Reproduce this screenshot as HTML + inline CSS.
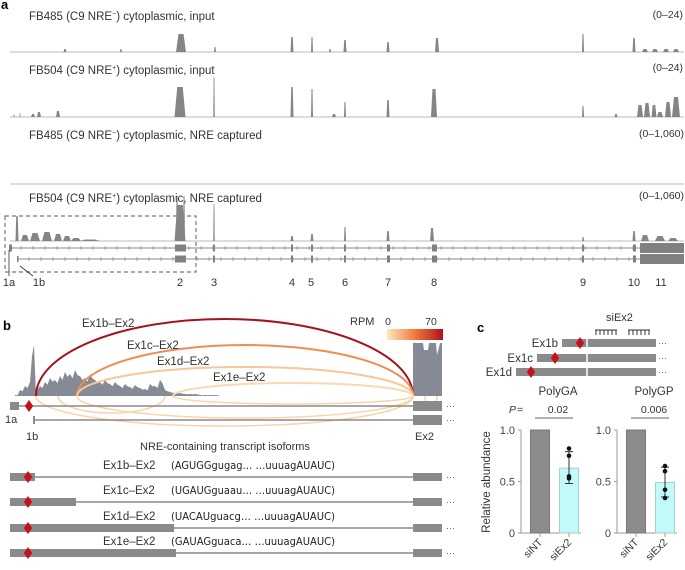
<!DOCTYPE html>
<html><head><meta charset="utf-8"><style>
body{margin:0;background:#fff;}
svg{display:block;font-family:"Liberation Sans",sans-serif;}
</style></head><body>
<svg id="fig" width="685" height="570" viewBox="0 0 685 570">
<g id="pa">
<text x="1" y="9" font-size="13" font-weight="bold">a</text>
<text x="29" y="20" font-size="11.5" fill="#333">FB485 (C9 NRE<tspan font-size="7" dy="-4">−</tspan><tspan dy="4">) cytoplasmic, input</tspan></text>
<text x="683" y="18" font-size="10.5" fill="#333" text-anchor="end">(0–24)</text>
<text x="29" y="74" font-size="11.5" fill="#333">FB504 (C9 NRE<tspan font-size="7" dy="-4">+</tspan><tspan dy="4">) cytoplasmic, input</tspan></text>
<text x="683" y="71" font-size="10.5" fill="#333" text-anchor="end">(0–24)</text>
<text x="29" y="139" font-size="11.5" fill="#333">FB485 (C9 NRE<tspan font-size="7" dy="-4">−</tspan><tspan dy="4">) cytoplasmic, NRE captured</tspan></text>
<text x="684" y="137" font-size="10.5" fill="#333" text-anchor="end">(0–1,060)</text>
<text x="29" y="202" font-size="11.5" fill="#333">FB504 (C9 NRE<tspan font-size="7" dy="-4">+</tspan><tspan dy="4">) cytoplasmic, NRE captured</tspan></text>
<text x="684" y="199" font-size="10.5" fill="#333" text-anchor="end">(0–1,060)</text>
<rect x="5" y="216" width="191" height="56" fill="none" stroke="#777" stroke-width="1.2" stroke-dasharray="4,3"/>
</g>
<g id="pb">
<text x="3" y="330" font-size="13" font-weight="bold">b</text>
<defs><linearGradient id="rpm" x1="0" x2="1"><stop offset="0" stop-color="#fde9c2"/><stop offset="0.5" stop-color="#f07a3c"/><stop offset="1" stop-color="#b0101a"/></linearGradient></defs>
<text x="350" y="325" font-size="11" fill="#333">RPM</text>
<text x="388" y="325" font-size="10.5" fill="#333" text-anchor="middle">0</text>
<text x="431" y="325" font-size="10.5" fill="#333" text-anchor="middle">70</text>
<rect x="387" y="329" width="56" height="11" fill="url(#rpm)"/>
<text x="225" y="450" font-size="11" fill="#333" text-anchor="middle">NRE-containing transcript isoforms</text>
<text x="5" y="423" font-size="11" fill="#333">1a</text>
<text x="26" y="440" font-size="11" fill="#333">1b</text>
<text x="415" y="440" font-size="11" fill="#333">Ex2</text>
</g>
<g id="pc">
<text x="477" y="332" font-size="13" font-weight="bold">c</text>
<text x="606" y="321" font-size="11" fill="#333">siEx2</text>
</g>
</svg>
<script>
const NS="http://www.w3.org/2000/svg";
const svg=document.getElementById('fig');
function mk(tag,attrs,parent){const e=document.createElementNS(NS,tag);for(const k in attrs)e.setAttribute(k,attrs[k]);(parent||svg).appendChild(e);return e;}
const pa=document.getElementById('pa'),pb=document.getElementById('pb'),pc=document.getElementById('pc');

// ---- panel a coverage data: [x, width, height]
const track1Peaks=[[65,3,3],[121,2,3],[181,10,18],[215,2,5],[292,3,15],[312,2,15],[330,2,3],[345,3,12],[388,3,10],[437,4,14],[583,2,18],[634,3,14],[645,6,3],[655,6,3],[666,6,3],[676,6,3]];
const track2Peaks=[[14,1,3],[20,1,4],[33,4,3],[39,4,5],[58,4,6],[180,11,30],[214,1.5,40],[292,3,30],[312,2,28],[334,4,3],[345,2,15],[388,3,17],[434,6,28],[583,2,11],[616,3,3],[640,6,12],[647,6,14],[654,5,12],[660,6,5],[668,6,15],[676,8,20]];
const track4Peaks=[[17,3,25],[25,8,6],[35,10,8],[47,10,9],[58,8,7],[67,8,5],[76,10,3],[90,20,1.5],[180,11,36],[177,2,45],[184,2,45],[214,1.5,37],[292,3,5],[312,3,7],[345,2,14],[388,3,10],[432,4,13],[583,2,4],[634,3,10],[645,8,6],[660,10,5],[673,10,3]];
function track(peaks,base,name){
  const l=mk('line',{x1:10,x2:684,y1:base,y2:base,stroke:'#bbb','stroke-width':1},pa);
  
  
  peaks.forEach(p=>{const [x,w,h]=p;
    const e=mk('polygon',{points:`${x-w/2},${base} ${x-w/4},${base-h} ${x+w/4},${base-h} ${x+w/2},${base}`,fill:'#858585'},pa);
    
    });
}
track(track1Peaks,52,'track1');
track(track2Peaks,117,'track2');
track([],184,'track3');
track(track4Peaks,241,'track4');

// gene models
const exonsA=[[175,11,7],[213,2,7],[291,2,7],[311,2,7],[344,2,7],[387,3,7],[432,5,7],[582,2,7],[633,3,7],[640,44,10]];
[[248,9],[259,17]].forEach((r,i)=>{const [y,x0]=r;
  const l=mk('line',{x1:x0,x2:684,y1:y,y2:y,stroke:'#888','stroke-width':1},pa);
  
  
  for(let t=x0+12;t<640;t+=12){const tk=mk('line',{x1:t,x2:t,y1:y-2,y2:y+2,stroke:'#888','stroke-width':0.7},pa);
    
    }
  if(i===0){const e=mk('rect',{x:9,y:y-3.5,width:3,height:7,fill:'#808080'},pa);
    
    }
  else{const e=mk('rect',{x:17,y:y-3,width:1.5,height:6,fill:'#808080'},pa);
    
    }
  exonsA.forEach(ex=>{const e=mk('rect',{x:ex[0],y:y-ex[2]/2,width:ex[1],height:ex[2],fill:'#808080'},pa);
    
    });
});
const exonLabels=['1a','1b','2','3','4','5','6','7','8','9','10','11'];
const exonLabelX=[9,39,180,214,292,311,345,388,434,583,634,661];
exonLabels.forEach((s,i)=>{const t=mk('text',{x:exonLabelX[i],y:286,'font-size':11,fill:'#333','text-anchor':'middle'},pa);t.textContent=s;
  
  });
let c1=mk('line',{x1:9,x2:9,y1:250,y2:276,stroke:'#333','stroke-width':0.8},pa);


let c2=mk('line',{x1:20,x2:33,y1:266,y2:276,stroke:'#333','stroke-width':0.8},pa);



// ---- panel b coverage (continuous profile, sampled every 5px from x=15)
const bBase=396;
const bCovHeights=[1,6,10,14,8,10,14,18,16,20,24,22,26,20,18,22,16,14,16,12,14,10,12,9,11,8,7,12,10,16,6,4,3,3,2,2,2,1,1,1,1,0];
let pts=`15,${bBase} `;
bCovHeights.forEach((h,i)=>{const x=15+i*5;pts+=`${x},${bBase-h} `;if(i<bCovHeights.length-1)pts+=`${x+2.5},${bBase-h*0.8} `;});
pts+=`${15+(bCovHeights.length-1)*5},${bBase}`;
let covb=mk('polygon',{points:pts,fill:'#858a94'},pb);


let spk=mk('polygon',{points:`29,${bBase} 32,${bBase-40} 34,${bBase-51} 36,${bBase}`,fill:'#858a94'},pb);


let ex2c=mk('polygon',{points:`413,${bBase} 413,343 423,343 424,350 428,350 429,343 436,343 437,355 440,343 442,343 442,${bBase}`,fill:'#858a94'},pb);


// arcs
const arcs=[[36,319,'#a3141c','Ex1b–Ex2',82,327],[77,345,'#f08c52','Ex1c–Ex2',127,349],[77,367,'#f7c69a','Ex1d–Ex2',157,365],[173,383,'#fbd8b0','Ex1e–Ex2',213,381]];
arcs.forEach(a=>{const [x1,top,col,lab,lx,ly]=a;const h=bBase-top;
  const p=mk('path',{d:`M${x1},${bBase} A${(413-x1)/2},${h} 0 0 1 413,${bBase}`,fill:'none',stroke:col,'stroke-width':2},pb);
  
  
  const t=mk('text',{x:lx,y:ly,'font-size':11.5,fill:'#333'},pb);t.textContent=lab;
  
  });
const lowArcs=[[36,413,30],[58,165,17],[77,413,22],[173,413,8],[425,437,12]];
lowArcs.forEach(a=>{const p=mk('path',{d:`M${a[0]},${bBase} A${(a[1]-a[0])/2},${a[2]} 0 0 0 ${a[1]},${bBase}`,fill:'none',stroke:'#fbd3a8','stroke-width':1.5},pb);
  
  });
function diamond(x,y,r,parent){const d=mk('polygon',{points:`${x},${y-r} ${x+r*0.7},${y} ${x},${y+r} ${x-r*0.7},${y}`,fill:'#c8101a'},parent);
  
  }
function grect(x,y,w,h,parent,name){const e=mk('rect',{x:x,y:y,width:w,height:h,fill:'#8a8a8a'},parent);
  
  return e;}
function gline(x1,x2,y,parent,name){const e=mk('line',{x1:x1,x2:x2,y1:y,y2:y,stroke:'#8a8a8a','stroke-width':1.5},parent);
  
  }
function dots(x,y,parent){const t=mk('text',{x:x,y:y+3,'font-size':9,fill:'#555'},parent);t.textContent='···';
  
  }
gline(10,442,406,pb,'row-1a');grect(10,402,9,8,pb,'exon-1a-b');grect(413,401,29,10,pb,'ex2-b');diamond(29,406,6,pb);dots(446,406,pb);
gline(34,442,420,pb,'row-1b');grect(33,416,2,8,pb,'exon-1b-b');grect(413,415,29,10,pb,'ex2-b2');dots(446,420,pb);
const isoLabels=['Ex1b–Ex2','Ex1c–Ex2','Ex1d–Ex2','Ex1e–Ex2'];
const isoSeqs=['(AGUGGgugag… …uuuagAUAUC)','(UGAUGguaau… …uuuagAUAUC)','(UACAUguacg… …uuuagAUAUC)','(GAUAGguaca… …uuuagAUAUC)'];
const isoEnd=[35,76,174,176];
const isoY=[477,502,528,553];
isoY.forEach((y,i)=>{gline(10,442,y,pb,'isoform-line');grect(10,y-4,isoEnd[i]-10,8,pb,'isoform-exon1');grect(413,y-4,29,8,pb,'isoform-ex2');diamond(28,y,6,pb);dots(446,y,pb);
  const t=mk('text',{x:103,y:y-8,'font-size':11.5,fill:'#333'},pb);t.textContent=isoLabels[i];
  
  
  const s=mk('text',{x:171,y:y-8,'font-size':10.5,fill:'#222','font-family':'DejaVu Sans, sans-serif','textLength':164,'lengthAdjust':'spacingAndGlyphs'},pb);s.textContent=isoSeqs[i];
  
  });

// ---- panel c schematic
const cRows=[['Ex1b',562,343,580],['Ex1c',537,358,555],['Ex1d',516,372,531]];
cRows.forEach(r=>{grect(r[1],r[2]-4,656-r[1],8,pc,'transcript-bar');
  const sep=mk('line',{x1:587,x2:587,y1:r[2]-5,y2:r[2]+5,stroke:'#fff','stroke-width':1.5},pc);
  
  
  diamond(r[3],r[2],6,pc);dots(658,r[2],pc);
  const t=mk('text',{x:r[1]-4,y:r[2]+4,'font-size':11.5,fill:'#333','text-anchor':'end'},pc);t.textContent=r[0];
  
  });
[595,628].forEach(x0=>{const p=mk('path',{d:`M${x0},330 h22`+[0,1,2,3,4,5].map(k=>` M${x0+1+k*4},330 v5`).join(''),stroke:'#333','stroke-width':1,fill:'none'},pc);
  
  });

// ---- panel c bar charts
const categories=['siNT','siEx2'];
const polyGAValues=[1.0,0.63];
const polyGAErr=[0.48,0.79];
const polyGAPoints=[0.82,0.75,0.55,0.53];
const polyGPValues=[1.0,0.49];
const polyGPErr=[0.35,0.64];
const polyGPPoints=[0.65,0.60,0.42,0.34];
const yTicks=[0,0.5,1.0];
const yTickLabels=['0','0.5','1.0'];
const pValues=['0.02','0.006'];
const y0=533,y1=430;
function yScale(v){return y0+(y1-y0)*v;}
function chart(ax,title,vals,err,pts,pv){
  const t=mk('text',{x:ax+37,y:395,'font-size':11.5,fill:'#333','text-anchor':'middle'},pc);t.textContent=title;
  
  
  const p=mk('text',{x:ax+37,y:413,'font-size':10.5,fill:'#333','text-anchor':'middle'},pc);p.textContent=pv;
  
  
  const pl=mk('line',{x1:ax+14,x2:ax+52,y1:418,y2:418,stroke:'#333','stroke-width':0.8},pc);
  
  
  const a=mk('line',{x1:ax,x2:ax,y1:y1,y2:y0,stroke:'#999','stroke-width':1},pc);
  
  
  const b=mk('line',{x1:ax,x2:ax+60,y1:y0,y2:y0,stroke:'#999','stroke-width':1},pc);
  
  
  yTicks.forEach((v,i)=>{const tk=mk('line',{x1:ax-3,x2:ax,y1:yScale(v),y2:yScale(v),stroke:'#999'},pc);
    
    
    const tl=mk('text',{x:ax-6,y:yScale(v)+4,'font-size':11,fill:'#444','text-anchor':'end'},pc);tl.textContent=yTickLabels[i];
    
    });
  categories.forEach((c,i)=>{const cx=ax+19+i*29;
    const r=mk('rect',{x:cx-9.5,y:yScale(vals[i]),width:19,height:y0-yScale(vals[i]),fill:i?'#c2fafa':'#8c8c8c',stroke:i?'#a8cfcf':'#777','stroke-width':1},pc);
    
    
    const tk=mk('line',{x1:cx,x2:cx,y1:y0,y2:y0+4,stroke:'#999'},pc);
    
    
    const tl=mk('text',{x:cx+3,y:y0+10,'font-size':10.5,fill:'#333','text-anchor':'end',transform:`rotate(-45 ${cx+3} ${y0+10})`},pc);tl.textContent=c;
    
    
    if(i===1){const cxe=cx;
      const e=mk('path',{d:`M${cxe},${yScale(err[0])} V${yScale(err[1])} M${cxe-4},${yScale(err[0])} h8 M${cxe-4},${yScale(err[1])} h8`,stroke:'#333','stroke-width':1,fill:'none'},pc);
      
      
      pts.forEach(v=>{const d=mk('circle',{cx:cxe,cy:yScale(v),r:2.3,fill:'#111'},pc);
        
        });}
  });
}
chart(521,'PolyGA',polyGAValues,polyGAErr,polyGAPoints,pValues[0]);
chart(617,'PolyGP',polyGPValues,polyGPErr,polyGPPoints,pValues[1]);
let pe=mk('text',{x:509,y:413,'font-size':10.5,fill:'#333','font-style':'italic'},pc);pe.textContent='P';


let pe2=mk('text',{x:517,y:413,'font-size':10.5,fill:'#333'},pc);pe2.textContent='=';


let yt=mk('text',{x:490,y:482,'font-size':11.5,fill:'#333','text-anchor':'middle',transform:'rotate(-90 490 482)'},pc);yt.textContent='Relative abundance';


</script>
</body></html>
